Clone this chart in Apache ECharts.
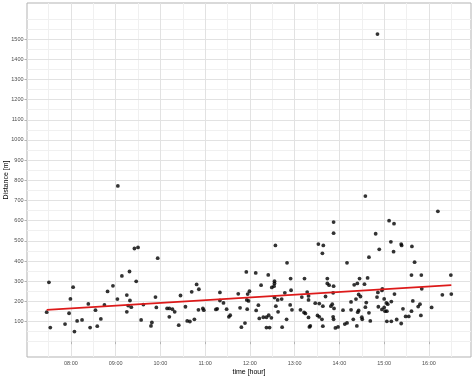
<!DOCTYPE html>
<html>
<head>
<meta charset="utf-8">
<script src="https://cdn.jsdelivr.net/npm/echarts@6/dist/echarts.min.js"></script>
<style>
  html, body { margin: 0; padding: 0; background: #fff; }
  #chart { width: 474px; height: 378px; }
</style>
</head>
<body>
<div id="chart"></div>
<script>
// time of day in decimal hours, distance in metres
const times = [
  7.51, 8.05, 7.99, 8.82, 8.94, 9.04, 7.46, 7.54, 8.39, 7.96, 7.87, 8.08, 8.14, 8.25, 8.55, 8.75, 8.67, 8.43, 8.59, 9.05,
  9.42, 9.50, 9.94, 9.14, 9.31, 9.46, 9.25, 9.32, 9.28, 9.35, 9.25, 9.62, 9.57, 9.81, 9.79, 9.89, 9.91, 10.15, 10.20, 10.27,
  10.32, 10.20, 10.41, 10.45, 10.56, 10.70, 10.60, 10.66, 10.76,
  10.81, 10.86, 10.85, 10.95, 10.97, 11.33, 11.33, 11.41, 11.24, 11.27, 11.48, 11.53, 11.56, 11.74, 11.78, 11.92, 11.95, 11.99,
  11.93, 11.97, 11.94, 11.89, 11.81, 12.13, 12.41, 12.25, 12.19, 12.14, 12.21, 12.30, 12.37, 12.42, 12.48, 12.37, 12.44, 12.49,
  12.57, 12.55, 12.55, 12.54, 12.78, 12.83, 12.55, 12.62, 12.71, 12.58, 12.63, 12.72, 12.82, 12.92, 12.91, 12.90, 12.94,
  13.22, 13.16, 13.28, 13.31, 13.31, 13.13, 13.21, 13.24, 13.31, 13.35, 13.33, 13.46, 13.55, 13.53, 13.64, 13.62, 13.87, 13.87,
  13.73, 13.73, 13.77, 13.87, 13.86, 13.69, 13.63, 13.55, 13.51, 13.61, 13.63, 13.81, 13.84, 13.88, 13.86, 13.87, 13.91, 13.97,
  14.08, 14.17, 14.12, 14.17,
  14.58, 15.11, 15.22, 14.81, 15.15, 15.38, 15.39, 15.62, 15.21, 14.89, 14.66, 15.68, 15.61, 15.83, 14.45, 14.63, 14.33, 14.40,
  14.56, 14.96, 14.95, 14.86, 14.43, 14.47, 14.37, 14.84, 15.00, 15.23, 15.84, 14.26, 14.60, 14.58, 14.87, 15.05, 15.08, 15.16,
  15.00, 15.02, 15.06, 14.95, 14.26, 14.43, 14.41, 14.66, 14.31, 14.50, 14.51, 14.69, 14.39, 15.06, 15.16, 15.28, 15.38, 15.42,
  15.48, 15.55, 15.61, 15.64, 15.76, 15.80, 15.82,
  16.20, 16.49, 16.30, 16.50, 16.06, 14.85,
];
const distances = [
  294, 270, 212, 249, 277, 211, 146, 70, 187, 141, 87, 50, 103, 108, 156, 182, 113, 70, 77, 772,
  462, 467, 414, 326, 348, 299, 231, 204, 179, 171, 148, 184, 108, 95, 78, 221, 170, 165, 165, 161,
  148, 123, 82, 229, 173, 247, 103, 100, 111,
  284, 260, 158, 165, 156, 244, 204, 192, 160, 163, 161, 123, 131, 237, 168, 346, 236, 250,
  207, 202, 161, 92, 72, 341, 331, 280, 181, 155, 115, 121, 121, 131, 118, 70, 70, 269,
  477, 300, 289, 275, 242, 391, 219, 207, 211, 176, 148, 72, 111, 255, 313, 182, 158,
  313, 221, 246, 227, 207, 158, 145, 140, 120, 78, 73, 191, 189, 484, 477, 438, 593, 538,
  313, 289, 280, 275, 242, 224, 176, 123, 130, 111, 77, 176, 186, 165, 123, 111, 68, 73,
  156, 391, 87, 93,
  722, 600, 585, 535, 495, 484, 477, 472, 446, 458, 419, 394, 330, 330, 313, 316, 282, 289,
  285, 262, 254, 244, 234, 224, 211, 221, 212, 236, 262, 197, 194, 171, 173, 192, 186, 199,
  170, 151, 151, 160, 158, 155, 146, 143, 111, 121, 111, 103, 78, 101, 101, 110, 90, 163,
  125, 125, 151, 202, 174, 186, 130,
  646, 330, 232, 236, 170, 1525,
];

// linear fit, end points
const fitTimes = [7.46, 16.50];
const fitDistances = [158, 280];

const xBreaks = [8, 9, 10, 11, 12, 13, 14, 15, 16];
const xMinorBreaks = [7.5, 8.5, 9.5, 10.5, 11.5, 12.5, 13.5, 14.5, 15.5, 16.5];
const yBreaks = [100, 200, 300, 400, 500, 600, 700, 800, 900, 1000, 1100, 1200, 1300, 1400, 1500];
const yMinorBreaks = [0, 50, 150, 250, 350, 450, 550, 650, 750, 850, 950, 1050, 1150, 1250, 1350, 1450, 1550, 1600];

const X_MIN = 7.02, X_MAX = 16.94;
const Y_MIN = -76, Y_MAX = 1679;

const FONT = "Liberation Sans";
const MAJOR = { show: true, lineStyle: { color: "#e2e2e2", width: 1 } };
const MINOR = { show: true, lineStyle: { color: "#f0f0f0", width: 1 } };

function hourLabel(v) {
  return String(Math.round(v)).padStart(2, "0") + ":00";
}

const chart = echarts.init(document.getElementById("chart"));
chart.setOption({
  animation: false,
  grid: {
    left: 27, right: 3, top: 3, bottom: 21,
    outerBoundsMode: "none", containLabel: false,
    show: true, borderColor: "#b3b3b3", borderWidth: 1, backgroundColor: "transparent",
  },
  xAxis: [
    {
      type: "value", min: X_MIN, max: X_MAX,
      name: "time [hour]", nameLocation: "middle", nameGap: 11.5, nameMoveOverlap: false,
      nameTextStyle: { color: "#000", fontSize: 7, fontFamily: FONT },
      axisLine: { show: false },
      axisTick: { show: true, length: 2.5, lineStyle: { color: "#b3b3b3" }, customValues: xBreaks },
      axisLabel: { customValues: xBreaks, formatter: hourLabel, color: "#4d4d4d",
                   fontSize: 5.5, fontFamily: FONT, margin: 3 },
      splitLine: MAJOR,
      z: 2,
    },
    {
      type: "value", min: X_MIN, max: X_MAX,
      axisLine: { show: false },
      axisTick: { show: false, customValues: xMinorBreaks },
      axisLabel: { show: false, customValues: xMinorBreaks },
      splitLine: MINOR,
      z: 1,
    },
  ],
  yAxis: [
    {
      type: "value", min: Y_MIN, max: Y_MAX,
      name: "Distance [m]", nameLocation: "middle", nameGap: 17, nameRotate: 90, nameMoveOverlap: false,
      nameTextStyle: { color: "#000", fontSize: 7, fontFamily: FONT },
      axisLine: { show: false },
      axisTick: { show: true, length: 2.5, lineStyle: { color: "#b3b3b3" }, customValues: yBreaks },
      axisLabel: { customValues: yBreaks, formatter: v => String(v), color: "#4d4d4d",
                   fontSize: 5.5, fontFamily: FONT, margin: 3.5 },
      splitLine: MAJOR,
      z: 2,
    },
    {
      type: "value", min: Y_MIN, max: Y_MAX,
      axisLine: { show: false },
      axisTick: { show: false, customValues: yMinorBreaks },
      axisLabel: { show: false, customValues: yMinorBreaks },
      splitLine: MINOR,
      z: 1,
    },
  ],
  series: [
    {
      type: "scatter",
      symbolSize: 3.8,
      itemStyle: { color: "#000" },
      data: times.map((t, i) => [t, distances[i]]),
      z: 3,
    },
    {
      type: "line",
      showSymbol: false,
      lineStyle: { color: "#dd1a1a", width: 1.7 },
      data: fitTimes.map((t, i) => [t, fitDistances[i]]),
      z: 4,
    },
  ],
});
</script>
</body>
</html>
